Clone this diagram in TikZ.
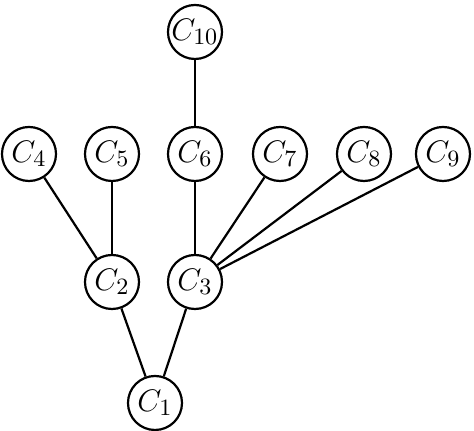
\documentclass[tikz,border=0pt]{standalone}
\begin{document}
\begin{tikzpicture}[x=0.385pt,y=-0.385pt,
  cnode/.style={draw,circle,line width=0.85pt,minimum size=20.8pt,inner sep=0pt,fill=white,font=\fontsize{12.5}{15}\selectfont},
  conn/.style={line width=0.85pt}]
\useasboundingbox (0,0) rectangle (474,431);
\node[cnode] (c10) at (195,32) {$C_{10}$};
\node[cnode] (c4) at (29,154) {$C_4$};
\node[cnode] (c5) at (112,154) {$C_5$};
\node[cnode] (c6) at (195,154) {$C_6$};
\node[cnode] (c7) at (280,154) {$C_7$};
\node[cnode] (c8) at (364,154) {$C_8$};
\node[cnode] (c9) at (443,154) {$C_9$};
\node[cnode] (c2) at (112,282) {$C_2$};
\node[cnode] (c3) at (195,282) {$C_3$};
\node[cnode] (c1) at (155,403) {$C_1$};
\draw[conn] (c10) -- (c6);
\draw[conn] (c4) -- (c2);
\draw[conn] (c5) -- (c2);
\draw[conn] (c6) -- (c3);
\draw[conn] (c7) -- (c3);
\draw[conn] (c8) -- (c3);
\draw[conn] (c9) -- (c3);
\draw[conn] (c2) -- (c1);
\draw[conn] (c3) -- (c1);
\end{tikzpicture}
\end{document}
